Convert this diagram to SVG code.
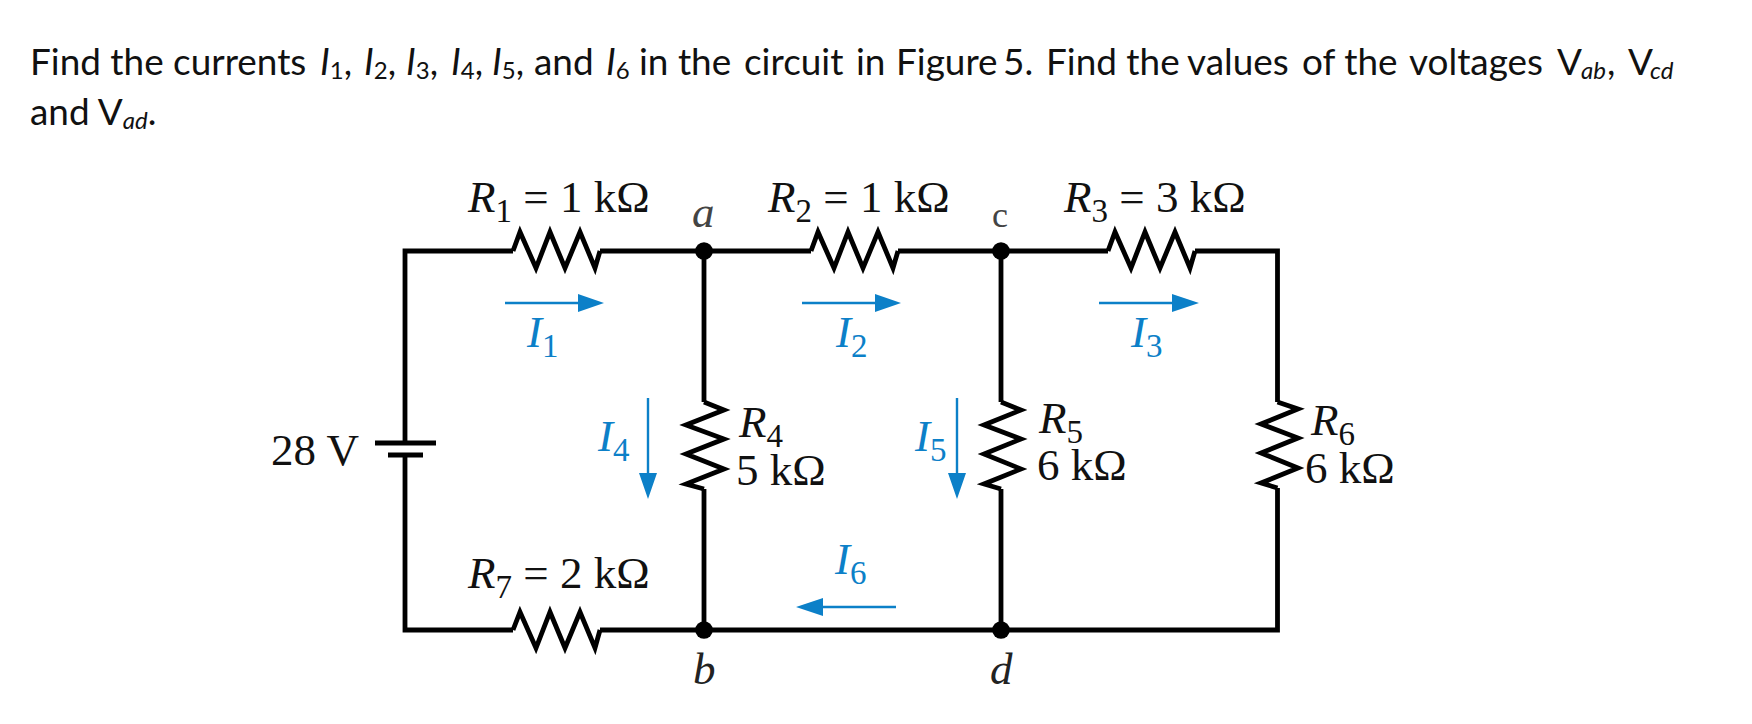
<svg xmlns="http://www.w3.org/2000/svg" width="1752" height="724" viewBox="0 0 1752 724">
<style>
.w{fill:none;stroke:#000;stroke-width:4.8;stroke-linejoin:miter}
.a{fill:none;stroke:#0c80c8;stroke-width:2.4}
.h{fill:#0c80c8}
.t{font-family:"Liberation Serif",serif;font-size:45px;fill:#111}
.b{font-family:"Liberation Serif",serif;font-size:45px;fill:#0c80c8;font-style:italic}
.s{font-size:33px;font-style:normal}
.i{font-style:italic}
.n{font-family:"Liberation Serif",serif;font-size:45px;fill:#444;font-style:italic}
.p{font-family:Lato,"Noto Sans",sans-serif;font-size:36.9px;fill:#111}
.q{font-size:24px}
</style>
<rect width="1752" height="724" fill="#fff"/>
<g id="question">
<text class="p" x="30" y="75">Find the currents <tspan class="i" x="320">I</tspan><tspan class="q" dy="4">1</tspan><tspan dy="-4">, </tspan><tspan class="i" x="364">I</tspan><tspan class="q" dy="4">2</tspan><tspan dy="-4">, </tspan><tspan class="i" x="406">I</tspan><tspan class="q" dy="4">3</tspan><tspan dy="-4">, </tspan><tspan class="i" x="451">I</tspan><tspan class="q" dy="4">4</tspan><tspan dy="-4">, </tspan><tspan class="i" x="492">I</tspan><tspan class="q" dy="4">5</tspan><tspan dy="-4">, </tspan><tspan x="534">and </tspan><tspan class="i" x="606">I</tspan><tspan class="q" dy="4">6</tspan><tspan dy="-4" x="639">in the </tspan><tspan x="744">circuit </tspan><tspan x="856">in </tspan><tspan x="896">Figure </tspan><tspan x="1003">5. </tspan><tspan x="1046">Find the </tspan><tspan x="1187">values </tspan><tspan x="1302">of the </tspan><tspan x="1409">voltages </tspan><tspan x="1557">V</tspan><tspan class="q i" x="1581" dy="4">ab</tspan><tspan dy="-4" x="1607">, </tspan><tspan x="1628">V</tspan><tspan class="q i" x="1650" dy="4">cd</tspan></text>
<text class="p" x="30" y="125">and V<tspan class="q i" dy="4">ad</tspan><tspan dy="-4">.</tspan></text>
</g>
<g id="connectors">
<path class="w" d="M405 443V251H513M600 251H811M898 251H1108M1195 251H1277.5V402M1277.5 488V630H600M513 630H405V455M704 251V402M704 489V630M1001 251V402M1001 489V630"/>
<path class="a" d="M505 303H580M802 303H877M1099 303H1174M648 398V474M957 398V474M896 607H822"/>
<path class="h" d="M604 303L578 294V312ZM901 303L875 294V312ZM1199 303L1172 294V312ZM648 499L639 473H657ZM957 499L948 473H966ZM796 607L823 598V616Z"/>
</g>
<g id="R1"><path class="w" d="M513 251L520 232L536 268L550 232L565 268L580 232L595 268L600 251"/><text class="t" x="468" y="212"><tspan class="i">R</tspan><tspan class="s" dy="10">1</tspan><tspan dy="-10"> = 1 kΩ</tspan></text></g>
<g id="R2"><path class="w" d="M811 251L818 232L834 268L848 232L863 268L878 232L893 268L898 251"/><text class="t" x="768" y="212"><tspan class="i">R</tspan><tspan class="s" dy="10">2</tspan><tspan dy="-10"> = 1 kΩ</tspan></text></g>
<g id="R3"><path class="w" d="M1108 251L1115 232L1131 268L1145 232L1160 268L1175 232L1190 268L1195 251"/><text class="t" x="1064" y="212"><tspan class="i">R</tspan><tspan class="s" dy="10">3</tspan><tspan dy="-10"> = 3 kΩ</tspan></text></g>
<g id="R4"><path class="w" d="M704 402L724 410L686 425L724 439L686 454L724 469L686 484L704 489"/><text class="t" x="739" y="437"><tspan class="i">R</tspan><tspan class="s" dy="10">4</tspan></text><text class="t" x="736" y="485">5 kΩ</text></g>
<g id="R5"><path class="w" d="M1001 402L1021 410L984 425L1021 439L984 454L1021 469L984 484L1001 489"/><text class="t" x="1039" y="433"><tspan class="i">R</tspan><tspan class="s" dy="10">5</tspan></text><text class="t" x="1037" y="480">6 kΩ</text></g>
<g id="R6"><path class="w" d="M1277.5 402L1298 409L1261 424L1298 438L1261 453L1298 468L1261 483L1277.5 488"/><text class="t" x="1311" y="435"><tspan class="i">R</tspan><tspan class="s" dy="10">6</tspan></text><text class="t" x="1305" y="483">6 kΩ</text></g>
<g id="R7"><path class="w" d="M513 630L520 612L536 648L550 612L565 648L580 612L595 648L600 630"/><text class="t" x="468" y="588"><tspan class="i">R</tspan><tspan class="s" dy="10">7</tspan><tspan dy="-10"> = 2 kΩ</tspan></text></g>
<g id="battery"><path class="w" d="M375 443H436M388 455H423"/><text class="t" x="271" y="465">28 V</text></g>
<g id="a"><circle cx="704" cy="251" r="8.8"/><text class="n" x="692" y="227">a</text></g>
<g id="c"><circle cx="1001" cy="251" r="8.8"/><text class="n" x="992" y="227" style="font-style:normal;font-size:36px">c</text></g>
<g id="b"><circle cx="704" cy="630" r="8.8"/><text class="n" x="693" y="684" style="fill:#222">b</text></g>
<g id="d"><circle cx="1001" cy="630" r="8.8"/><text class="n" x="990" y="684" style="fill:#222">d</text></g>
<g id="currents">
<text class="b" x="527" y="347">I<tspan class="s" dy="10">1</tspan></text>
<text class="b" x="836" y="347">I<tspan class="s" dy="10">2</tspan></text>
<text class="b" x="1131" y="347">I<tspan class="s" dy="10">3</tspan></text>
<text class="b" x="598" y="451">I<tspan class="s" dy="10">4</tspan></text>
<text class="b" x="915" y="451">I<tspan class="s" dy="10">5</tspan></text>
<text class="b" x="835" y="574">I<tspan class="s" dy="10">6</tspan></text>
</g>
</svg>
